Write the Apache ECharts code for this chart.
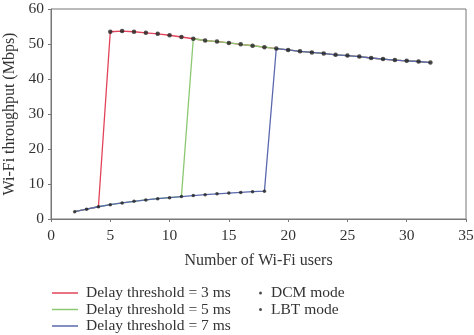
<!DOCTYPE html>
<html><head><meta charset="utf-8">
<script src="https://cdn.jsdelivr.net/npm/echarts@6/dist/echarts.min.js"></script>
<style>html,body{margin:0;padding:0;background:#fff}#c{width:474px;height:335px}</style>
</head><body><div id="c"></div>
<script>
// Number of Wi-Fi users
const lowUsers = [2,3,4,5,6,7,8,9,10,11,12,13,14,15,16,17,18];
const lowThroughput = [2.1,2.8,3.5,4.1,4.6,5.05,5.45,5.8,6.1,6.4,6.7,6.95,7.2,7.4,7.6,7.8,7.95];
const highUsers = [5,6,7,8,9,10,11,12,13,14,15,16,17,18,19,20,21,22,23,24,25,26,27,28,29,30,31,32];
const highThroughput = [53.5,53.7,53.5,53.2,52.9,52.5,52.0,51.5,51.0,50.7,50.3,49.9,49.5,49.1,48.7,48.3,47.9,47.6,47.3,46.9,46.7,46.4,46.0,45.7,45.4,45.2,45.0,44.7];
const switchUsers = {"Delay threshold = 3 ms": 4, "Delay threshold = 5 ms": 11, "Delay threshold = 7 ms": 18};
const lineNames = ["Delay threshold = 3 ms","Delay threshold = 5 ms","Delay threshold = 7 ms"];
const modeNames = ["DCM mode","LBT mode"];
const lineColors = ["#e2435a","#8cc872","#5a68ad"];
const xTicks = [0,5,10,15,20,25,30,35];
const yTicks = [0,10,20,30,40,50,60];

function buildLine(sw){
  const pts = [];
  lowUsers.forEach((u,i)=>{ if(u<=sw) pts.push([u, lowThroughput[i]]); });
  highUsers.forEach((u,i)=>{ if(u>sw) pts.push([u, highThroughput[i]]); });
  return pts;
}
const font = "'Liberation Serif', 'DejaVu Serif', serif";
const series = lineNames.map((n,k)=>({
  name:n, type:'line', data: buildLine(switchUsers[n]), showSymbol:false,
  lineStyle:{color:lineColors[k], width:1.3}, itemStyle:{color:lineColors[k]}, z:2+k, animation:false
}));
series.push({name:modeNames[0], type:'scatter', data: lowUsers.map((u,i)=>[u,lowThroughput[i]]),
  symbolSize:3.5, itemStyle:{color:'#222'}, z:10, animation:false});
series.push({name:modeNames[1], type:'scatter', data: highUsers.map((u,i)=>[u,highThroughput[i]]),
  symbolSize:4.5, itemStyle:{color:'#222'}, z:10, animation:false});

const legendText = {fontFamily:font, fontSize:15.5, color:'#333'};
const legends = [];
lineNames.forEach((n,k)=>legends.push({left:52, top:285+k*16.5, itemWidth:26, itemHeight:1.5, icon:'rect',
  itemGap:0, padding:0, data:[n], textStyle:Object.assign({}, legendText, {padding:[0,0,0,3]}), selectedMode:false}));
modeNames.forEach((n,k)=>legends.push({left:259, top:285+k*16.5, itemWidth:3, itemHeight:3, icon:'circle',
  itemGap:0, padding:0, data:[n], textStyle:Object.assign({}, legendText, {padding:[0,0,0,4]}), selectedMode:false}));

const chart = echarts.init(document.getElementById('c'), null, {renderer:'canvas'});
chart.setOption({
  animation:false,
  grid:{left:51, right:8, top:9, bottom:116, containLabel:false, outerBoundsMode:'none', show:true, borderColor:'#777', borderWidth:1},
  xAxis:{type:'value', min:0, max:35, interval:5,
    name:'Number of Wi-Fi users', nameLocation:'middle', nameGap:34,
    nameTextStyle:{fontFamily:font, fontSize:16, color:'#333'},
    axisLine:{lineStyle:{color:'#777'}}, axisTick:{show:true, length:3, inside:false, lineStyle:{color:'#777'}},
    axisLabel:{fontFamily:font, fontSize:15.5, color:'#333', margin:9, formatter:v=>xTicks.includes(v)?String(v):''},
    splitLine:{show:false}},
  yAxis:{type:'value', min:0, max:60, interval:10,
    name:'Wi-Fi throughput (Mbps)', nameLocation:'middle', nameGap:28, nameRotate:90,
    nameTextStyle:{fontFamily:font, fontSize:16, color:'#333'},
    axisLine:{show:true, lineStyle:{color:'#777'}}, axisTick:{show:true, length:3, lineStyle:{color:'#777'}},
    axisLabel:{fontFamily:font, fontSize:15.5, color:'#333', margin:7, formatter:v=>yTicks.includes(v)?String(v):''},
    splitLine:{show:false}},
  legend: legends,
  series: series
});
</script></body></html>
